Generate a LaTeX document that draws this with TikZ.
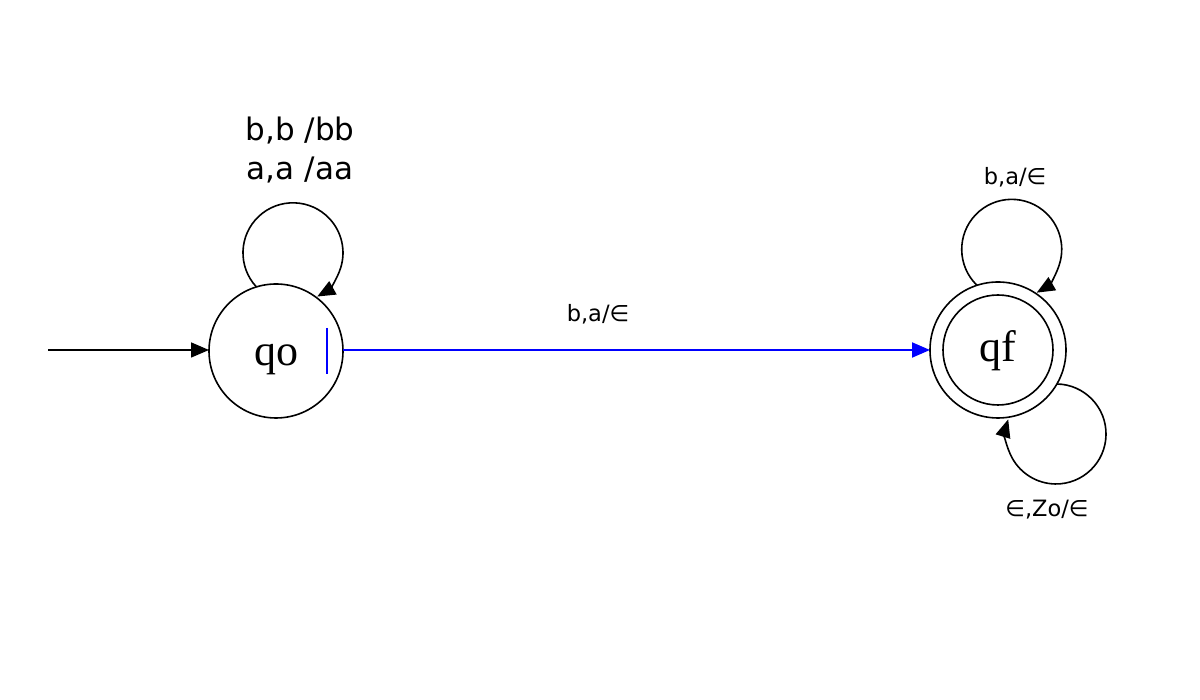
\documentclass[tikz,border=0pt]{standalone}
\usepackage{fontspec}
\usetikzlibrary{arrows.meta}
\newfontfamily\lblfont{DejaVu Sans}
\newfontfamily\stfont{Liberation Serif}
\begin{document}
\begin{tikzpicture}[x=1pt,y=1pt,
  state/.style={circle,draw=black,line width=1.6pt,inner sep=0pt,outer sep=0pt,font=\stfont\fontsize{44}{46}\selectfont},
  edge/.style={line width=1.6pt,-{Triangle[length=18pt,width=15pt]}},
  bigl/.style={font=\lblfont\fontsize{31}{34}\selectfont,inner sep=0pt},
  smalll/.style={font=\lblfont\fontsize{22.5}{25}\selectfont,inner sep=0pt}]
\useasboundingbox (0,0) rectangle (1200,700);
\fill[white] (0,0) rectangle (1200,700);
% states
\node[state,minimum size=134pt] (qo) at (276,349) {\smash{\raisebox{-15pt}{qo}}};
\node[state,minimum size=136pt] (qfo) at (998,350) {};
\node[state,minimum size=110pt] (qf) at (998,350) {\smash{\raisebox{-12pt}{qf}}};
\coordinate (init) at (48,350);
% initial arrow
\draw[edge] (init) -- (qo.west |- init);
% blue transition
\draw[line width=2pt,blue,-{Triangle[length=18pt,width=15pt]}] (qo.east |- init) -- (qfo.west);
\draw[line width=2.2pt,blue] ([xshift=51pt,yshift=23pt]qo.center) -- ([xshift=51pt,yshift=-23pt]qo.center);
% loops
\draw[edge] (qo.107) arc[start angle=223,end angle=-61,radius=50pt];
\draw[edge] (qfo.108) arc[start angle=226,end angle=-60,radius=50pt];
\draw[edge] (qfo.-30) arc[start angle=89,end angle=-197,radius=50pt];
% labels
\node[bigl] (l1) at (300,569) {b,b /bb};
\node[bigl] (l2) at (300,530) {a,a /aa};
\node[smalll] (l3) at (1015,523) {b,a/∈};
\node[smalll] (l4) at (598,386) {b,a/∈};
\node[smalll] (l5) at (1047,190) {∈,Zo/∈};
\end{tikzpicture}
\end{document}
